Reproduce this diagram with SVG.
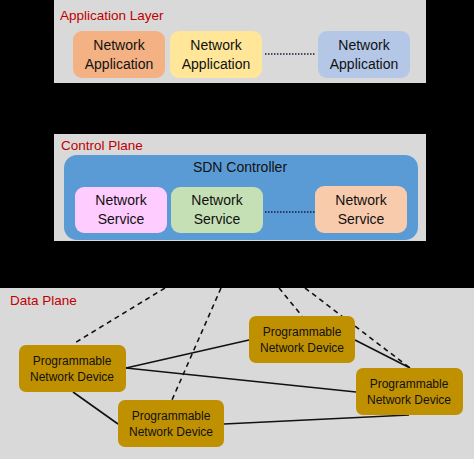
<svg xmlns="http://www.w3.org/2000/svg" width="474" height="459" viewBox="0 0 474 459">
<style>
text{font-family:"Liberation Sans","Open Sans",sans-serif;fill:#111;text-anchor:middle}
.lbl{fill:#C00000;text-anchor:start;font-size:13.5px}
.app{font-size:14px}
.dev{font-size:12px}
.panel{fill:#D9D9D9}
.conn{stroke:#111;stroke-width:1.6;fill:none}
.dash{stroke-dasharray:5 4}
.dot{stroke:#1a1a40;stroke-width:1.6;stroke-dasharray:1.5 1.5}
.device{fill:#BF9000}
</style>
<rect x="0" y="0" width="474" height="459" fill="#000"/>
<g id="application-layer">
<rect class="panel" x="54" y="0" width="372" height="83"/>
<text class="lbl" x="60" y="20">Application Layer</text>
</g>
<g id="app1"><rect x="73" y="31" width="92" height="47" rx="9" fill="#F4B183"/><text class="app" x="119" y="50">Network</text><text class="app" x="119" y="69">Application</text></g>
<g id="app2"><rect x="170" y="31" width="92" height="47" rx="9" fill="#FFE699"/><text class="app" x="216" y="50">Network</text><text class="app" x="216" y="69">Application</text></g>
<g id="app3"><rect x="318" y="31" width="92" height="47" rx="9" fill="#B4C7E7"/><text class="app" x="364" y="50">Network</text><text class="app" x="364" y="69">Application</text></g>
<line class="dot" x1="265" y1="54" x2="316" y2="54"/>
<g id="control-plane">
<rect class="panel" x="54" y="134" width="372" height="107"/>
<text class="lbl" x="61" y="150">Control Plane</text>
</g>
<g id="sdn-controller">
<rect x="64" y="155" width="354" height="85" rx="13" fill="#5B9BD5"/>
<text class="app" x="240" y="172">SDN Controller</text>
</g>
<g id="svc1"><rect x="75" y="187" width="92" height="46" rx="9" fill="#FFCCFF"/><text class="app" x="121" y="205">Network</text><text class="app" x="121" y="224">Service</text></g>
<g id="svc2"><rect x="171" y="187" width="92" height="46" rx="9" fill="#C5E0B4"/><text class="app" x="217" y="205">Network</text><text class="app" x="217" y="224">Service</text></g>
<g id="svc3"><rect x="315" y="186" width="92" height="47" rx="9" fill="#F8CBAD"/><text class="app" x="361" y="205">Network</text><text class="app" x="361" y="224">Service</text></g>
<line class="dot" x1="265" y1="212" x2="315" y2="212"/>
<g id="data-plane">
<rect class="panel" x="0" y="288" width="474" height="171"/>
<text class="lbl" x="10" y="305">Data Plane</text>
</g>
<g id="connectors">
<line class="conn" x1="126" y1="368" x2="249" y2="340"/>
<line class="conn" x1="126" y1="368" x2="356" y2="392"/>
<line class="conn" x1="73" y1="392" x2="118" y2="424"/>
<line class="conn" x1="224" y1="424" x2="409" y2="415"/>
<line class="conn" x1="355" y1="340" x2="410" y2="368"/>
<line class="conn dash" x1="165" y1="288" x2="73" y2="344"/>
<line class="conn dash" x1="221" y1="288" x2="172" y2="400"/>
<line class="conn dash" x1="279" y1="288" x2="302" y2="316"/>
<line class="conn dash" x1="305" y1="288" x2="410" y2="368"/>
</g>
<g id="dev1"><rect class="device" x="19" y="345" width="107" height="47" rx="7"/><text class="dev" x="72" y="365">Programmable</text><text class="dev" x="72" y="381">Network Device</text></g>
<g id="dev2"><rect class="device" x="249" y="316" width="106" height="47" rx="7"/><text class="dev" x="302" y="336">Programmable</text><text class="dev" x="302" y="352">Network Device</text></g>
<g id="dev3"><rect class="device" x="356" y="368" width="107" height="47" rx="7"/><text class="dev" x="409" y="388">Programmable</text><text class="dev" x="409" y="404">Network Device</text></g>
<g id="dev4"><rect class="device" x="118" y="400" width="106" height="47" rx="7"/><text class="dev" x="171" y="420">Programmable</text><text class="dev" x="171" y="436">Network Device</text></g>
</svg>
